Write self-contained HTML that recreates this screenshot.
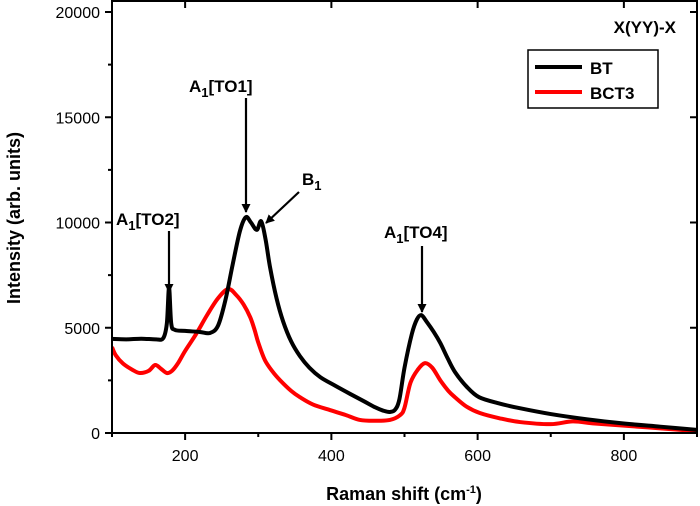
<!DOCTYPE html>
<html><head><meta charset="utf-8"><style>
body{margin:0;background:#fff}
svg{display:block;font-family:"Liberation Sans",Arial,sans-serif;font-weight:bold}
</style></head><body>
<svg id="chart" width="700" height="506" viewBox="0 0 700 506"></svg>
<script>
const xTicks=[200,400,600,800];
const xMinor=[100,300,500,700,900];
const yTicks=[0,5000,10000,15000,20000];
const yMinor=[2500,7500,12500,17500];
const btX=[100,120,140,160,170,175,178,181,186,200,220,234,245,255,265,275,283,290,298,304,310,316,325,334,345,357,370,385,405,426,445,460,472,480,487,493,500,510,517,523,530,540,549,559,569,585,602,630,656,700,750,800,850,900];
const btY=[4470,4450,4480,4450,4500,5200,6900,5200,4900,4850,4800,4750,5100,6300,8000,9600,10250,10000,9650,10060,9200,7900,6400,5300,4350,3650,3100,2650,2250,1850,1500,1220,1050,1000,1100,1600,3100,4700,5400,5600,5300,4800,4270,3550,2900,2200,1700,1400,1190,900,650,450,300,150];
const bctX=[100,105,115,128,138,150,159,167,175,182,190,200,215,230,245,259,270,280,289,295,300,309,320,330,345,357,375,398,420,439,460,480,494,500,508,518,528,538,549,560,569,585,603,630,658,700,730,760,800,850,900];
const bctY=[4080,3700,3300,3000,2850,2950,3230,3050,2850,2950,3300,3900,4700,5600,6400,6840,6550,6100,5500,4900,4300,3470,2900,2500,2000,1700,1350,1090,850,620,580,620,850,1200,2370,3000,3320,3100,2500,2000,1700,1250,950,700,520,420,550,450,350,220,90];
const X0=100,X1=900,PX0=112,PX1=697,PY0=433,PY1=1;
const xs=v=>PX0+(v-X0)/(X1-X0)*(PX1-PX0);
const ys=v=>PY0-v/20000*(433-12);
const svg=document.getElementById('chart');
const NS='http://www.w3.org/2000/svg';
function mk(tag,attrs,parent){const e=document.createElementNS(NS,tag);for(const k in attrs)e.setAttribute(k,attrs[k]);(parent||svg).appendChild(e);return e;}
function path(xa,ya){const p=xa.map((x,i)=>[xs(x),ys(ya[i])]);let d='M'+p[0][0]+','+p[0][1];
for(let i=0;i<p.length-1;i++){const a=p[i-1]||p[i],b=p[i],c=p[i+1],e=p[i+2]||c;
d+=' C'+(b[0]+(c[0]-a[0])/6)+','+(b[1]+(c[1]-a[1])/6)+' '+(c[0]-(e[0]-b[0])/6)+','+(c[1]-(e[1]-b[1])/6)+' '+c[0]+','+c[1];}return d;}
const clip=mk('clipPath',{id:'cp'});mk('rect',{x:PX0,y:PY1,width:PX1-PX0,height:PY0-PY1},clip);
const s1=mk('path',{d:path(bctX,bctY),fill:'none',stroke:'#f00','stroke-width':4,'clip-path':'url(#cp)','stroke-linejoin':'round'});


const s2=mk('path',{d:path(btX,btY),fill:'none',stroke:'#000','stroke-width':4,'clip-path':'url(#cp)','stroke-linejoin':'round'});


const fr=mk('rect',{x:PX0,y:PY1,width:PX1-PX0,height:PY0-PY1,fill:'none',stroke:'#000','stroke-width':2});


xTicks.forEach(v=>{const x=xs(v);
mk('line',{x1:x,x2:x,y1:PY0,y2:PY0+7,stroke:'#000','stroke-width':2});
mk('line',{x1:x,x2:x,y1:PY1,y2:PY1+7,stroke:'#000','stroke-width':2});
const t=mk('text',{x:x,y:PY0+28,'text-anchor':'middle','font-size':16,'font-weight':'normal'});t.textContent=v;

});
xMinor.forEach(v=>{const x=xs(v);mk('line',{x1:x,x2:x,y1:PY0,y2:PY0+4,stroke:'#000','stroke-width':2});});
yTicks.forEach(v=>{const y=ys(v);
mk('line',{x1:PX0-7,x2:PX0,y1:y,y2:y,stroke:'#000','stroke-width':2});
mk('line',{x1:PX1-7,x2:PX1,y1:y,y2:y,stroke:'#000','stroke-width':2});
const t=mk('text',{x:PX0-12,y:y+6,'text-anchor':'end','font-size':16,'font-weight':'normal'});t.textContent=v;

});
yMinor.forEach(v=>{const y=ys(v);mk('line',{x1:PX0-4,x2:PX0,y1:y,y2:y,stroke:'#000','stroke-width':2});});
</script>
<svg width="700" height="506" style="position:absolute;left:0;top:0" font-family="Liberation Sans, Arial, sans-serif" font-weight="bold">
<text x="404" y="500" text-anchor="middle" font-size="18">Raman shift (cm<tspan font-size="11" dy="-7">-1</tspan><tspan dy="7">)</tspan></text>
<text transform="translate(20,218) rotate(-90)" text-anchor="middle" font-size="18">Intensity (arb. units)</text>
<text x="676" y="33" text-anchor="end" font-size="17">X(YY)-X</text>
<g>
<rect x="528" y="50" width="130" height="58" fill="#fff" stroke="#000" stroke-width="1.5"/>
<line x1="535" x2="582" y1="67" y2="67" stroke="#000" stroke-width="4"/>
<text x="590" y="74" font-size="17">BT</text>
<line x1="535" x2="582" y1="92" y2="92" stroke="#f00" stroke-width="4"/>
<text x="590" y="99" font-size="17">BCT3</text>
</g>
<defs><marker id="ah" markerWidth="9" markerHeight="9" refX="8" refY="4.5" orient="auto" markerUnits="userSpaceOnUse"><path d="M0,0 L9,4.5 L0,9 z" fill="#000"/></marker></defs>
<g>
<text x="116" y="225" font-size="17">A<tspan font-size="13" dy="5">1</tspan><tspan dy="-5">[TO2]</tspan></text>
<line x1="169" y1="231" x2="169" y2="292" stroke="#000" stroke-width="2.2" marker-end="url(#ah)"/></g>
<g>
<text x="189" y="92" font-size="17">A<tspan font-size="13" dy="5">1</tspan><tspan dy="-5">[TO1]</tspan></text>
<line x1="246" y1="98" x2="246" y2="212" stroke="#000" stroke-width="2.2" marker-end="url(#ah)"/></g>
<g>
<text x="302" y="185" font-size="17">B<tspan font-size="13" dy="5">1</tspan></text>
<line x1="299" y1="192" x2="266" y2="223" stroke="#000" stroke-width="2.2" marker-end="url(#ah)"/></g>
<g>
<text x="384" y="238" font-size="17">A<tspan font-size="13" dy="5">1</tspan><tspan dy="-5">[TO4]</tspan></text>
<line x1="422" y1="246" x2="422" y2="312" stroke="#000" stroke-width="2.2" marker-end="url(#ah)"/></g>
</svg>
</body></html>
